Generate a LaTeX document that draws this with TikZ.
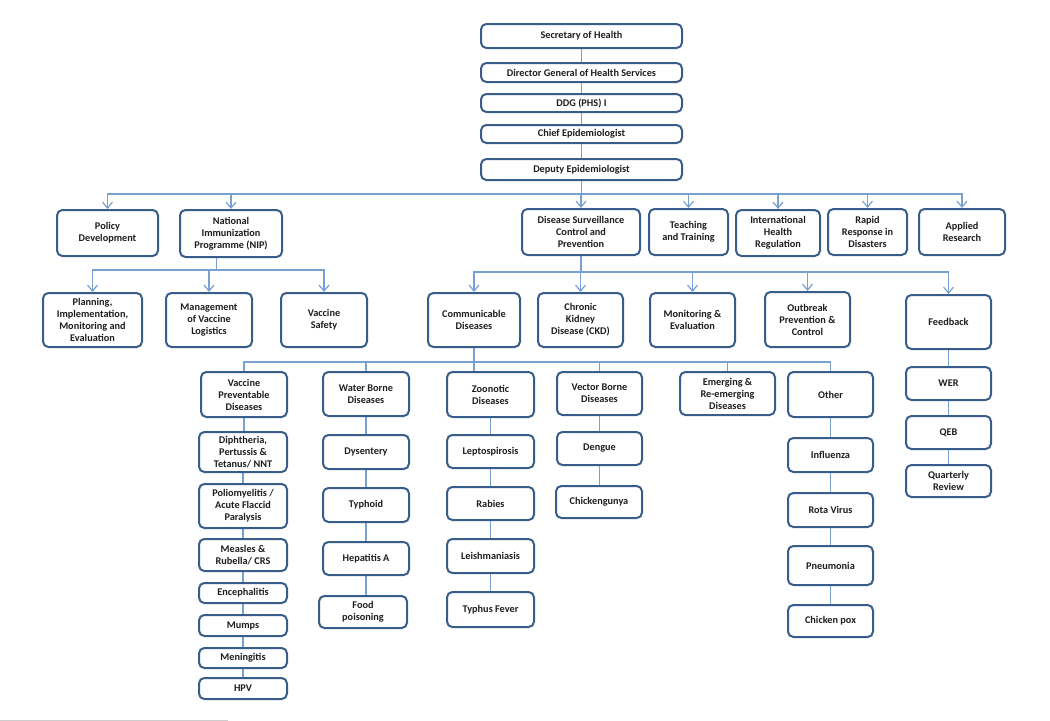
\documentclass[tikz,border=0pt]{standalone}
\usepackage{fontspec}
\setmainfont{Carlito}
\usetikzlibrary{arrows.meta,backgrounds}

\definecolor{boxblue}{RGB}{56,93,138}
\definecolor{linkblue}{RGB}{120,160,210}
\definecolor{txtgray}{RGB}{30,30,30}

% box from its corners (left, top, right, bottom), in pixels
\newcommand{\orgbox}[6]{%
  \node[box, minimum width={(#4-#2)*0.75pt}, minimum height={(#5-#3)*0.75pt}]
    (#1) at ({(#2+#4)/2},{(#3+#5)/2}) {#6};}

\begin{document}
\begin{tikzpicture}[x=0.75pt, y=-0.75pt,
  box/.style={draw=boxblue, line width=1.5pt, rounded corners=4pt, fill=white,
    align=center, inner sep=1pt, text=txtgray,
    font=\fontsize{7.7}{9}\selectfont\bfseries},
  link/.style={draw=linkblue, line width=0.9pt},
  arr/.style={link, -{Straight Barb[length=4.5pt,width=7.5pt]}}]

  \useasboundingbox (0,0) rectangle (1050,721);

  % Top chain
  \orgbox{sec}{481}{24}{682}{48}{Secretary of Health}
  \orgbox{dg}{481}{63}{682}{82}{Director General of Health Services}
  \orgbox{ddg}{481}{94}{682}{112}{DDG (PHS) I}
  \orgbox{chief}{481}{125}{682}{143}{Chief Epidemiologist}
  \orgbox{deputy}{481}{159}{682}{180}{Deputy Epidemiologist}

  % Units
  \orgbox{policy}{57}{210}{158}{256}{Policy\\Development}
  \orgbox{nip}{180}{210}{282}{257}{National\\Immunization\\Programme (NIP)}
  \orgbox{dscp}{522}{209}{640}{255}{Disease Surveillance\\Control and\\Prevention}
  \orgbox{teach}{649}{209}{728}{255}{Teaching\\and Training}
  \orgbox{ihr}{736}{210}{820}{256}{International\\Health\\Regulation}
  \orgbox{rapid}{828}{209}{907}{255}{Rapid\\Response in\\Disasters}
  \orgbox{applied}{919}{209}{1005}{255}{Applied\\Research}

  % NIP
  \orgbox{plan}{43}{293}{142}{347}{Planning,\\Implementation,\\Monitoring and\\Evaluation}
  \orgbox{mgmt}{166}{293}{252}{347}{Management\\of Vaccine\\Logistics}
  \orgbox{safety}{281}{293}{367}{347}{Vaccine\\Safety}

  % Disease surveillance
  \orgbox{comm}{428}{293}{520}{347}{Communicable\\Diseases}
  \orgbox{ckd}{538}{293}{623}{347}{Chronic\\Kidney\\Disease (CKD)}
  \orgbox{mne}{650}{293}{735}{347}{Monitoring \&\\Evaluation}
  \orgbox{outbreak}{765}{292}{850}{347}{Outbreak\\Prevention \&\\Control}
  \orgbox{feedback}{906}{295}{991}{349}{Feedback}
  \orgbox{wer}{906}{367}{991}{400}{WER}
  \orgbox{qeb}{906}{416}{991}{449}{QEB}
  \orgbox{qr}{906}{465}{991}{497}{Quarterly\\Review}

  % Communicable diseases
  \orgbox{vpd}{201}{372}{287}{417}{Vaccine\\Preventable\\Diseases}
  \orgbox{dip}{199}{432}{287}{472}{Diphtheria,\\Pertussis \&\\Tetanus/ NNT}
  \orgbox{polio}{199}{484}{287}{528}{Poliomyelitis /\\Acute Flaccid\\Paralysis}
  \orgbox{measles}{199}{539}{287}{571}{Measles \&\\Rubella/ CRS}
  \orgbox{enceph}{199}{583}{287}{603}{Encephalitis}
  \orgbox{mumps}{199}{615}{287}{636}{Mumps}
  \orgbox{mening}{199}{648}{287}{668}{Meningitis}
  \orgbox{hpv}{199}{678}{287}{699}{HPV}

  \orgbox{water}{323}{372}{409}{416}{Water Borne\\Diseases}
  \orgbox{dys}{323}{435}{409}{469}{Dysentery}
  \orgbox{typhoid}{323}{488}{409}{522}{Typhoid}
  \orgbox{hepa}{323}{542}{409}{575}{Hepatitis A}
  \orgbox{food}{319}{596}{407}{628}{Food\\poisoning}

  \orgbox{zoo}{447}{372}{534}{417}{Zoonotic\\Diseases}
  \orgbox{lepto}{447}{435}{534}{468}{Leptospirosis}
  \orgbox{rabies}{447}{487}{534}{520}{Rabies}
  \orgbox{leish}{447}{539}{534}{573}{Leishmaniasis}
  \orgbox{typhus}{447}{592}{534}{627}{Typhus Fever}

  \orgbox{vector}{557}{372}{642}{415}{Vector Borne\\Diseases}
  \orgbox{dengue}{557}{432}{642}{465}{Dengue}
  \orgbox{chik}{556}{486}{642}{518}{Chickengunya}

  \orgbox{emerg}{680}{372}{775}{415}{Emerging \&\\Re-emerging\\Diseases}

  \orgbox{other}{788}{372}{873}{417}{Other}
  \orgbox{flu}{788}{438}{873}{472}{Influenza}
  \orgbox{rota}{788}{493}{873}{527}{Rota Virus}
  \orgbox{pneu}{788}{546}{873}{585}{Pneumonia}
  \orgbox{pox}{788}{605}{873}{637}{Chicken pox}

  % Connectors
  \begin{scope}[on background layer]
    \foreach \a/\b in {sec/dg, dg/ddg, ddg/chief, chief/deputy}
      \draw[link] (\a.south) -- (\b.north);

    \coordinate (bar1) at (deputy.south |- 0,194);
    \draw[link] (deputy.south) -- (bar1);
    \foreach \c in {policy,nip,dscp,teach,ihr,rapid,applied}
      \draw[arr] (bar1) -| (\c.north);

    \coordinate (nipout) at ([xshift=-11pt]nip.south);
    \coordinate (bar2) at (nipout |- 0,270);
    \draw[link] (nipout) -- (bar2);
    \foreach \c in {plan,mgmt,safety}
      \draw[arr] (bar2) -| (\c.north);

    \coordinate (bar3) at (dscp.south |- 0,272);
    \draw[link] (dscp.south) -- (bar3);
    \foreach \c in {comm,ckd,mne,outbreak,feedback}
      \draw[arr] (bar3) -| (\c.north);

    \coordinate (bar4) at (comm.south |- 0,362);
    \draw[link] (comm.south) -- (comm.south |- zoo.north);
    \foreach \c in {vpd,water,vector,emerg,other}
      \draw[link] (bar4) -| (\c.north);

    \foreach \a/\b in {vpd/dip, dip/polio, polio/measles, measles/enceph,
        enceph/mumps, mumps/mening, mening/hpv,
        water/dys, dys/typhoid, typhoid/hepa, hepa/food,
        zoo/lepto, lepto/rabies, rabies/leish, leish/typhus,
        vector/dengue, dengue/chik,
        other/flu, flu/rota, rota/pneu, pneu/pox,
        feedback/wer, wer/qeb, qeb/qr}
      \draw[link] (\a.south) -- (\a.south |- \b.north);
  \end{scope}

  % Rule at the foot
  \draw[black!20, line width=0.75pt] (0,720) -- (228,720);
\end{tikzpicture}
\end{document}
